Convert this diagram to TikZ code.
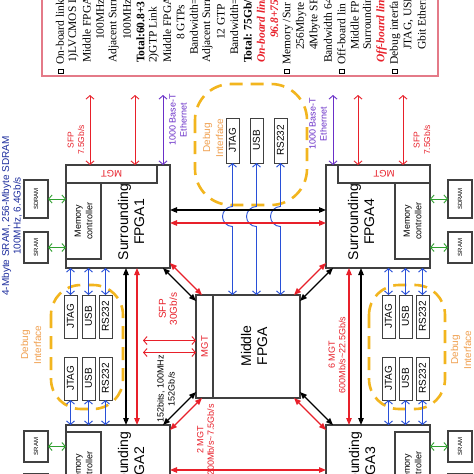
\documentclass[tikz,border=0pt]{standalone}
\usepackage{fontspec}
\setmainfont{Liberation Serif}
\setsansfont{Liberation Sans}
\usetikzlibrary{arrows.meta,calc}
\definecolor{cred}{HTML}{E8202A}
\definecolor{cblue}{HTML}{2850D8}
\definecolor{cpurple}{HTML}{6A30C8}
\definecolor{cgreen}{HTML}{30A030}
\definecolor{corange}{HTML}{F2B51E}
\definecolor{clabel}{HTML}{F0A050}
\definecolor{cpink}{HTML}{E47A88}
\definecolor{cnavy}{HTML}{1E2E9E}
\definecolor{cbox}{HTML}{404040}
\newcommand{\fsz}[2]{\fontsize{#1}{#2}\selectfont}
\newcommand{\bul}{\raisebox{0.1em}{\fboxsep=0pt\fboxrule=0.9pt\fbox{\rule{0pt}{4pt}\hspace{3.5pt}}}\hspace{4pt}}
\begin{document}
\begin{tikzpicture}[x=1pt,y=-1pt,
  bx/.style={draw=cbox,line width=1.1pt,inner sep=0pt,outer sep=0pt,fill=white},
  rt/.style={rotate=90,inner sep=0pt,align=center,font=\sffamily},
  tl/.style={rotate=90,inner sep=0pt,anchor=west,font=\fsz{11.5}{12}},
  tlb/.style={tl,font=\fsz{11.5}{12}\bfseries},
  tlr/.style={tl,text=cred,font=\fsz{11.5}{12}\bfseries\itshape},
  lk/.style={line width=1.1pt,{Triangle[length=7pt,width=5.5pt]}-{Triangle[length=7pt,width=5.5pt]}},
  ob/.style={line width=0.9pt,{Straight Barb[length=3.5pt,width=8pt]}-{Straight Barb[length=3.5pt,width=8pt]}},
  dbg/.style={draw=corange,line width=2.6pt,dash pattern=on 13pt off 8pt,rounded corners=#1},
  chip/.style={bx,minimum width=24pt,line width=1.2pt},
  jbox/.style={bx,minimum width=13pt,line width=1pt},
  jtxt/.style={rt,font=\sffamily\fsz{10}{11}},
]
\useasboundingbox (0,0) rectangle (474,474);
\clip (0,0) rectangle (474,474);
\fill[white] (0,0) rectangle (474,474);

% ---------- text box ----------
\draw[cpink,line width=1.8pt,fill=white] (42,-10) rectangle (438,76);
\node[tl] (l1) at (60,74) {\bul On-board link};
\node[tl] (l2) at (73.4,63) {1)LVCMOS L};
\node[tl] (l3) at (86.8,63) {Middle FPGA};
\node[tl] (l4) at (100.2,40) {100MHz};
\node[tl] (l5) at (113.6,63) {Adjacent Surro};
\node[tl] (l6) at (127,40) {100MHz};
\node[tlb] (l7) at (140.4,63) {Total:60.8+3};
\node[tl] (l8) at (153.8,63) {2)GTP Link};
\node[tl] (l9) at (167.2,63) {Middle FPGA};
\node[tl] (l10) at (180.6,40) {8 GTPs};
\node[tl] (l11) at (194,55) {Bandwidth=};
\node[tl] (l12) at (207.4,63) {Adjacent Surro};
\node[tl] (l13) at (220.8,40) {12 GTP};
\node[tl] (l14) at (234.2,55) {Bandwidth=};
\node[tlb] (l15) at (247.6,63) {Total: 75Gb/s};
\node[tlr] (l16) at (261,63) {On-board link};
\node[tlr] (l17) at (274.4,38) {96.8+75};
\node[tl] (l18) at (287.8,74) {\bul Memory /Sur};
\node[tl] (l19) at (301.2,50) {256Mbyte S};
\node[tl] (l20) at (314.6,50) {4Mbyte SRA};
\node[tl] (l21) at (328,63) {Bandwidth 64\rule{5pt}{5pt}};
\node[tl] (l22) at (341.4,74) {\bul Off-board lin};
\node[tl] (l23) at (354.8,50) {Middle FPG};
\node[tl] (l24) at (368.2,50) {Surrounding};
\node[tlr] (l25) at (381.6,63) {Off-board link};
\node[tl] (l26) at (395,74) {\bul Debug interfa};
\node[tl] (l27) at (408.4,50) {JTAG, USB,};
\node[tl] (l28) at (421.8,50) {Gbit Ethernet};

% ---------- debug enclosures ----------
\draw[dbg=36pt] (195,84) rectangle (307,205);
\draw[dbg=30pt] (51,285) rectangle (123,409);
\draw[dbg=30pt] (369,285) rectangle (445,409);

% ---------- FPGA boxes ----------
\node[bx,minimum width=104pt,minimum height=103pt] (f1) at (118,216.5) {};
\node[bx,minimum width=104pt,minimum height=103pt] (f4) at (378,216.5) {};
\node[bx,minimum width=104pt,minimum height=103pt] (mid) at (248,346.5) {};
\node[bx,minimum width=104pt,minimum height=103pt] (f2) at (118,476.5) {};
\node[bx,minimum width=104pt,minimum height=103pt] (f3) at (378,476.5) {};

\node[bx,minimum width=91pt,minimum height=18pt] (m1) at (111.5,174) {};
\node[bx,minimum width=92pt,minimum height=18pt] (m4) at (384,174) {};
\node[bx,minimum width=17pt,minimum height=103pt] (mm) at (204.5,346.5) {};
\node[rotate=180,inner sep=0pt,text=cred,font=\sffamily\fsz{9.5}{10}] (m1t) at (m1) {MGT};
\node[rotate=180,inner sep=0pt,text=cred,font=\sffamily\fsz{9.5}{10}] (m4t) at (m4) {MGT};
\node[rt,text=cred,font=\sffamily\fsz{9.5}{10}] (mmt) at (mm) {MGT};

\node[bx,minimum width=35pt,minimum height=76pt] (mc1) at (83.5,221) {};
\node[bx,minimum width=35pt,minimum height=76pt] (mc4) at (412.5,221) {};
\node[bx,minimum width=35pt,minimum height=76pt] (mc2) at (83.5,470) {};
\node[bx,minimum width=35pt,minimum height=76pt] (mc3) at (412.5,470) {};
\foreach \m in {mc1,mc4,mc2,mc3}
  \node[rt,font=\sffamily\fsz{9}{11.5}] (\m t) at (\m) {Memory\\controller};

\node[rt,font=\sffamily\fsz{14}{16}] (f1t) at (131,222) {Surrounding\\FPGA1};
\node[rt,font=\sffamily\fsz{14}{16}] (f4t) at (361,222) {Surrounding\\FPGA4};
\node[rt,font=\sffamily\fsz{14}{16}] (f2t) at (131,470) {Surrounding\\FPGA2};
\node[rt,font=\sffamily\fsz{14}{16}] (f3t) at (362,470) {Surrounding\\FPGA3};
\node[rt,font=\sffamily\fsz{14}{16}] (midt) at (254,346) {Middle\\FPGA};

% ---------- memory chips ----------
\node[chip,minimum height=38pt] (sd1) at (36,199) {};
\node[chip,minimum height=31pt] (sr1) at (36,247.5) {};
\node[chip,minimum height=38pt] (sd4) at (460,199) {};
\node[chip,minimum height=31pt] (sr4) at (460,247.5) {};
\node[chip,minimum height=31pt] (sr2) at (36,446.5) {};
\node[chip,minimum height=38pt] (sd2) at (36,493) {};
\node[chip,minimum height=31pt] (sr3) at (460,446.5) {};
\node[chip,minimum height=38pt] (sd3) at (460,493) {};
\foreach \c in {sd1,sd4}
  \node[rt,font=\sffamily\fsz{6}{7}] (\c t) at (\c) {SDRAM};
\foreach \c in {sr1,sr4,sr2,sr3}
  \node[rt,font=\sffamily\fsz{6}{7}] (\c t) at (\c) {SRAM};

\draw[ob,cgreen] (sd1.east) -- (sd1.east -| f1.west);
\draw[ob,cgreen] (sr1.east) -- (sr1.east -| f1.west);
\draw[ob,cgreen] (sr2.east) -- (sr2.east -| f2.west);
\draw[ob,cgreen] (sd4.west) -- (sd4.west -| f4.east);
\draw[ob,cgreen] (sr4.west) -- (sr4.west -| f4.east);
\draw[ob,cgreen] (sr3.west) -- (sr3.west -| f3.east);

% ---------- debug boxes ----------
\node[jbox,minimum height=45pt] (jt0) at (232.5,140.5) {};
\node[jbox,minimum height=45pt] (us0) at (256.5,140.5) {};
\node[jbox,minimum height=45pt] (rs0) at (280.5,140.5) {};
\node[jbox,minimum height=43pt] (jt1) at (70.5,316.5) {};
\node[jbox,minimum height=43pt] (us1) at (88.5,316.5) {};
\node[jbox,minimum height=43pt] (rs1) at (105.5,316.5) {};
\node[jbox,minimum height=43pt] (jt2) at (70.5,378.5) {};
\node[jbox,minimum height=43pt] (us2) at (88.5,378.5) {};
\node[jbox,minimum height=43pt] (rs2) at (105.5,378.5) {};
\node[jbox,minimum height=43pt] (jt4) at (388.5,316.5) {};
\node[jbox,minimum height=43pt] (us4) at (405.5,316.5) {};
\node[jbox,minimum height=43pt] (rs4) at (422.5,316.5) {};
\node[jbox,minimum height=43pt] (jt3) at (388.5,378.5) {};
\node[jbox,minimum height=43pt] (us3) at (405.5,378.5) {};
\node[jbox,minimum height=43pt] (rs3) at (422.5,378.5) {};
\foreach \s in {0,1,2,3,4}{
  \node[jtxt] (jt\s t) at (jt\s) {JTAG};
  \node[jtxt] (us\s t) at (us\s) {USB};
  \node[jtxt] (rs\s t) at (rs\s) {RS232};
}

% ---------- blue debug links ----------
\coordinate (hc) at (0,216.5);
\foreach \b in {jt0,us0,rs0}
  \draw[ob,cblue] (\b.south) -- ($(\b.south|-hc)+(0,-10)$)
     .. controls +(-5.5,0) and +(0,-5.5) .. ($(\b.south|-hc)+(-10,0)$)
     .. controls +(0,5.5) and +(-5.5,0) .. ($(\b.south|-hc)+(0,10)$)
     -- (\b.south|-mid.north);
\foreach \b in {jt1,us1,rs1}
  \draw[ob,cblue] (\b.north) -- (\b.north|-f1.south);
\foreach \b in {jt2,us2,rs2}
  \draw[ob,cblue] (\b.south) -- (\b.south|-f2.north);
\foreach \b in {jt4,us4,rs4}
  \draw[ob,cblue] (\b.north) -- (\b.north|-f4.south);
\foreach \b in {jt3,us3,rs3}
  \draw[ob,cblue] (\b.south) -- (\b.south|-f3.north);

% ---------- inter-FPGA links ----------
\draw[lk,black] ($(f1.north east)+(0,45)$) -- ($(f4.north west)+(0,45)$);
\draw[lk,cred] ($(f1.north east)+(0,58)$) -- ($(f4.north west)+(0,58)$);
\draw[lk,cred] ($(f2.north east)+(0,45)$) -- ($(f3.north west)+(0,45)$);
\draw[lk,black] ($(f1.south west)+(60,0)$) -- ($(f2.north west)+(60,0)$);
\draw[lk,cred] ($(f1.south west)+(71,0)$) -- ($(f2.north west)+(71,0)$);
\draw[lk,cred] ($(f4.south west)+(23,0)$) -- ($(f3.north west)+(23,0)$);
\draw[lk,black] ($(f4.south west)+(35,0)$) -- ($(f3.north west)+(35,0)$);
\draw[lk,cred] ($(f1.south east)+(0,-5)$) -- ($(mid.north west)+(6,0)$);
\draw[lk,black] ($(f1.south east)+(-7,0)$) -- ($(mid.north west)+(0,6)$);
\draw[lk,cred] ($(f4.south west)+(0,-5)$) -- ($(mid.north east)+(-6,0)$);
\draw[lk,black] ($(f4.south west)+(7,0)$) -- ($(mid.north east)+(0,6)$);
\draw[lk,black] ($(mid.south west)+(0,-6)$) -- ($(f2.north east)+(-7,0)$);
\draw[lk,cred] ($(mid.south west)+(6,0)$) -- ($(f2.north east)+(0,5)$);
\draw[lk,black] ($(mid.south east)+(0,-6)$) -- ($(f3.north west)+(7,0)$);
\draw[lk,cred] ($(mid.south east)+(-6,0)$) -- ($(f3.north west)+(0,5)$);

% ---------- external links ----------
\draw[ob,cred] ($(f1.north west)+(24,0)$) -- ++(0,-70);
\draw[ob,cred] ($(f1.north west)+(69,0)$) -- ++(0,-70);
\draw[ob,cpurple] ($(f1.north west)+(97,0)$) -- ++(0,-70);
\draw[ob,cpurple] ($(f4.north west)+(7,0)$) -- ++(0,-70);
\draw[ob,cred] ($(f4.north west)+(32,0)$) -- ++(0,-70);
\draw[ob,cred] ($(f4.north west)+(77,0)$) -- ++(0,-70);
\draw[ob,cred] ($(mm.west)+(-53,-6)$) -- ($(mm.west)+(0,-6)$);
\draw[ob,cred] ($(mm.west)+(-53,6)$) -- ($(mm.west)+(0,6)$);

% ---------- labels ----------
\node[rt,text=cred,font=\sffamily\fsz{8.5}{10.5}] (sfp1) at (76,140) {SFP\\7.5Gb/s};
\node[rt,text=cred,font=\sffamily\fsz{8.5}{10.5}] (sfp4) at (422,140) {SFP\\7.5Gb/s};
\node[rt,text=cpurple,font=\sffamily\fsz{9}{11}] (eth1) at (178,120) {1000 Base-T\\Ethernet};
\node[rt,text=cpurple,font=\sffamily\fsz{9}{11}] (eth4) at (318,124) {1000 Base-T\\Ethernet};
\node[rt,text=clabel,font=\sffamily\fsz{10}{13}] (dbg0) at (213,138) {Debug\\Interface};
\node[rt,text=clabel,font=\sffamily\fsz{10}{13}] (dbg1) at (31,345) {Debug\\Interface};
\node[rt,text=clabel,font=\sffamily\fsz{10}{13}] (dbg4) at (461,350) {Debug\\Interface};
\node[rt,text=cnavy,font=\sffamily\fsz{10}{11.5}] (memnote) at (12,216) {4-Mbyte SRAM, 256-Mbyte SDRAM\\100MHz, 6.4Gb/s};
\node[rt,text=cred,font=\sffamily\fsz{10}{11}] (sfpm) at (168,309) {SFP\\30Gb/s};
\node[rt,font=\sffamily\fsz{9}{11}] (lvc) at (166,389) {152bits, 100MHz\\152Gb/s};
\node[rt,text=cred,font=\sffamily\fsz{9}{10.5}] (mgt2) at (205.5,440) {2 MGT\\200Mb/s\textasciitilde 7.5Gb/s};
\node[rt,text=cred,font=\sffamily\fsz{9}{10.5}] (mgt6) at (337,355) {6 MGT\\600Mb/s\textasciitilde 22.5Gb/s};
\end{tikzpicture}
\end{document}
